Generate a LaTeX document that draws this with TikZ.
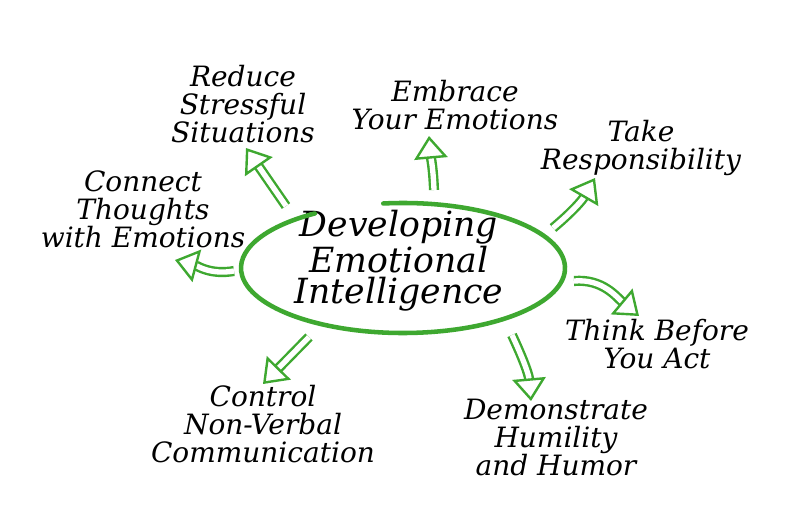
\documentclass[tikz,border=0pt]{standalone}
\usepackage{fontspec}
\setmainfont{DejaVu Serif}
\usetikzlibrary{arrows.meta}
\definecolor{leafgreen}{RGB}{62,168,48}

\begin{document}
\begin{tikzpicture}[x=0.75pt, y=-0.75pt,
  topic/.style={font=\fontsize{21}{21}\selectfont\itshape, align=center, inner sep=0pt},
  hub/.style={font=\fontsize{26}{23.5}\selectfont\itshape, align=center, inner sep=0pt},
  ring/.style={draw=leafgreen, line width=3.4pt, line cap=round},
  hollow/.style={draw=leafgreen, line width=1.8pt, double=white, double distance=4pt,
    -{Triangle[open, length=17pt, width=25pt, line width=1.8pt]}}
]
\useasboundingbox[fill=white] (0,0) rectangle (800,510);

\node[hub] (core) at (399,261) {Developing\\Emotional\\Intelligence};
\coordinate (rim) at (403,268);
\draw[ring] (rim) ++(263:162 and 65) arc[start angle=263, end angle=597, x radius=162, y radius=65];

\node[topic] (reduce) at (243,104) {Reduce\\Stressful\\Situations};
\node[topic] (embrace) at (455,105) {Embrace\\Your Emotions};
\node[topic] (take) at (641,148) {Take\\Responsibility};
\node[topic] (connect) at (143,209) {Connect\\Thoughts\\with Emotions};
\node[topic] (think) at (657,344) {Think Before\\You Act};
\node[topic] (control) at (263,424) {Control\\Non-Verbal\\Communication};
\node[topic] (demo) at (556,437) {Demonstrate\\Humility\\and Humor};

\coordinate (reduce-out) at (286,206);  \coordinate (reduce-in) at (246,148);
\coordinate (embrace-out) at (434,190); \coordinate (embrace-in) at (429,136);
\coordinate (take-out) at (553,228);    \coordinate (take-in) at (595,178);
\coordinate (connect-out) at (234,271); \coordinate (connect-in) at (175,260);
\coordinate (think-out) at (574,281);   \coordinate (think-in) at (639,316);
\coordinate (control-out) at (309,337); \coordinate (control-in) at (263,384);
\coordinate (demo-out) at (512,335);    \coordinate (demo-in) at (531,401);

\draw[hollow] (reduce-out) -- (reduce-in);
\draw[hollow] (embrace-out) to[out=92, in=-85] (embrace-in);
\draw[hollow] (take-out) to[out=40, in=240] (take-in);
\draw[hollow] (connect-out) to[out=190, in=-15] (connect-in);
\draw[hollow] (think-out) to[out=5, in=140] (think-in);
\draw[hollow] (control-out) -- (control-in);
\draw[hollow] (demo-out) to[out=-65, in=95] (demo-in);
\end{tikzpicture}
\end{document}
